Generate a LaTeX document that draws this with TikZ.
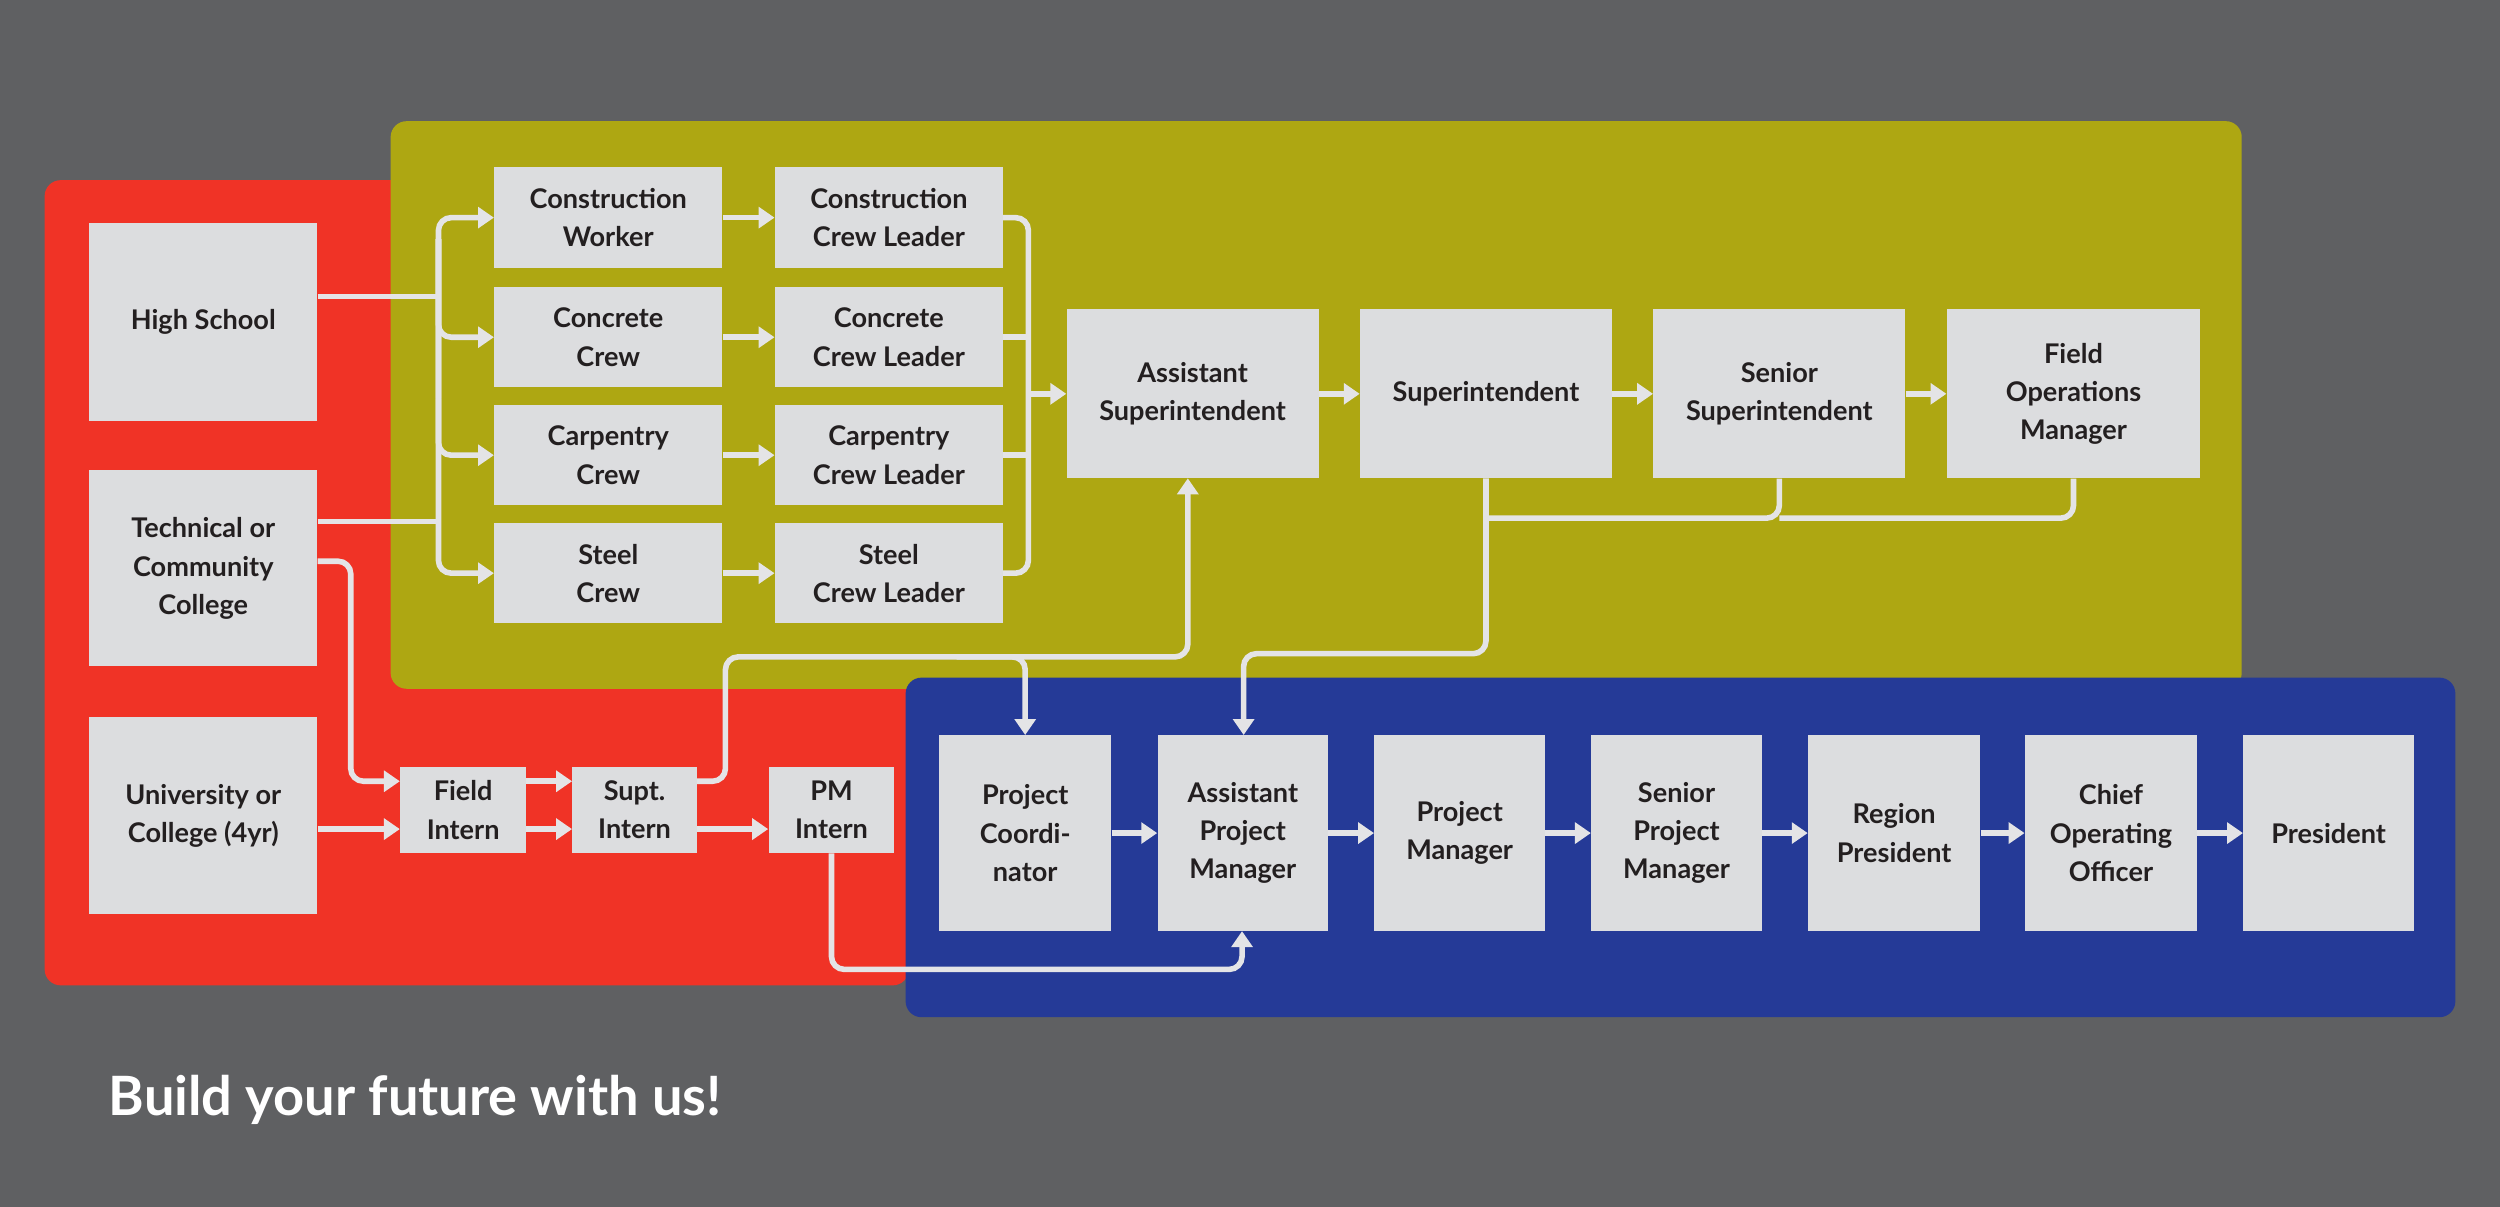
\documentclass[tikz,border=0pt]{standalone}
\usepackage{fontspec}
\setmainfont{Lato}
\usetikzlibrary{arrows.meta}
\definecolor{bg}{HTML}{5F6062}
\definecolor{redp}{HTML}{F03326}
\definecolor{olive}{HTML}{AEA712}
\definecolor{bluep}{HTML}{253A97}
\definecolor{boxc}{HTML}{DCDDDF}
\definecolor{linec}{HTML}{E4E4E6}
\definecolor{txt}{HTML}{231F20}
\tikzset{
 bx/.style={fill=boxc,draw=none,inner sep=0pt,align=center,text=txt,
   font=\fontsize{17}{24}\selectfont\bfseries},
 cn/.style={draw=linec,line width=3.5pt,rounded corners=8pt},
 ar/.style={cn,-{Triangle[length=10pt,width=13pt]}},
}
\newcommand{\bxn}[6]{\node[bx,minimum width=#4-#2,minimum height=#5-#3] (#1) at ({(#2+#4)/2},{(#3+#5)/2}) {#6};}
\begin{document}
\begin{tikzpicture}[x=1pt,y=-1pt]
\fill[bg] (0,0) rectangle (1568,757);
\useasboundingbox (0,0) rectangle (1568,757);
\fill[redp,rounded corners=10pt] (28,113) rectangle (570,618);
\fill[olive,rounded corners=10pt] (245,76) rectangle (1406,432);
\fill[bluep,rounded corners=10pt] (568,425) rectangle (1540,638);
% boxes
\bxn{hs}{56}{140}{199}{264}{High School}
\bxn{tc}{56}{295}{199}{418}{Technical or\\Community\\College}
\bxn{uc}{56}{450}{199}{573}{University or\\College (4yr)}
\bxn{cw}{310}{105}{453}{168}{Construction\\Worker}
\bxn{cc}{310}{180}{453}{243}{Concrete\\Crew}
\bxn{ca}{310}{254}{453}{317}{Carpentry\\Crew}
\bxn{sc}{310}{328}{453}{391}{Steel\\Crew}
\bxn{cwl}{486}{105}{629}{168}{Construction\\Crew Leader}
\bxn{ccl}{486}{180}{629}{243}{Concrete\\Crew Leader}
\bxn{cal}{486}{254}{629}{317}{Carpentry\\Crew Leader}
\bxn{scl}{486}{328}{629}{391}{Steel\\Crew Leader}
\bxn{as}{669}{194}{827}{300}{Assistant\\Superintendent}
\bxn{su}{853}{194}{1011}{300}{Superintendent}
\bxn{ss}{1037}{194}{1195}{300}{Senior\\Superintendent}
\bxn{fo}{1221}{194}{1380}{300}{Field\\Operations\\Manager}
\bxn{fi}{251}{481}{330}{535}{Field\\Intern}
\bxn{si}{359}{481}{437}{535}{Supt.\\Intern}
\bxn{pi}{482}{481}{561}{535}{PM\\Intern}
\bxn{pc}{589}{461}{697}{584}{Project\\Coordi-\\nator}
\bxn{apm}{726}{461}{833}{584}{Assistant\\Project\\Manager}
\bxn{pm}{862}{461}{969}{584}{Project\\Manager}
\bxn{spm}{998}{461}{1105}{584}{Senior\\Project\\Manager}
\bxn{rp}{1134}{461}{1242}{584}{Region\\President}
\bxn{coo}{1270}{461}{1378}{584}{Chief\\Operating\\Officer}
\bxn{pr}{1407}{461}{1514}{584}{President}
% trunk from schools
\draw[cn] (hs.east|-0,186) -- (275,186);
\draw[cn] (tc.east|-0,327) -- (275,327);
\draw[ar] (275,250) |- (cw.west);
\draw[ar] (275,150) |- (cc.west);
\draw[ar] (275,150) |- (ca.west);
\draw[ar] (275,250) |- (sc.west);
\foreach \a/\b in {cw/cwl,cc/ccl,ca/cal,sc/scl} \draw[ar] (\a) -- (\b);
\draw[cn] (cwl.east) -| (645,300) |- (scl.east);
\draw[cn] (ccl.east) -- (645,211.5);
\draw[cn] (cal.east) -- (645,285.5);
\draw[ar] (645,247) -- (as.west|-0,247);
\draw[ar] (as.east|-0,247) -- (su.west|-0,247);
\draw[ar] (su.east|-0,247) -- (ss.west|-0,247);
\draw[ar] (ss.east|-0,247) -- (fo.west|-0,247);
% interns
\draw[ar] (tc.east|-0,352) -| (220,420) |- (fi.west|-0,490);
\draw[ar] (uc.east|-0,520) -- (fi.west|-0,520);
\draw[ar] (fi.east|-0,490) -- (si.west|-0,490);
\draw[ar] (fi.east|-0,520) -- (si.west|-0,520);
\draw[ar] (si.east|-0,520) -- (pi.west|-0,520);
\draw[ar] (si.east|-0,490) -| (455,412) -| (745,300);
\draw[ar] (600,412) -| (643,461);
\draw[ar] (pi.south) |- (700,608) -| (779,584);
% supt to APM
\draw[ar] (932,300) |- (850,410) -| (780,461);
\draw[cn] (ss.south) |- (932,325);
\draw[cn] (fo.south) |- (1116,325);
% blue row
\foreach \a/\b in {pc/apm,apm/pm,pm/spm,spm/rp,rp/coo,coo/pr} \draw[ar] (\a) -- (\b);
\node[anchor=west,text=white,font=\fontsize{34}{40}\selectfont\bfseries,inner sep=0pt] (title) at (68,690) {Build your future with us!};
\end{tikzpicture}
\end{document}
